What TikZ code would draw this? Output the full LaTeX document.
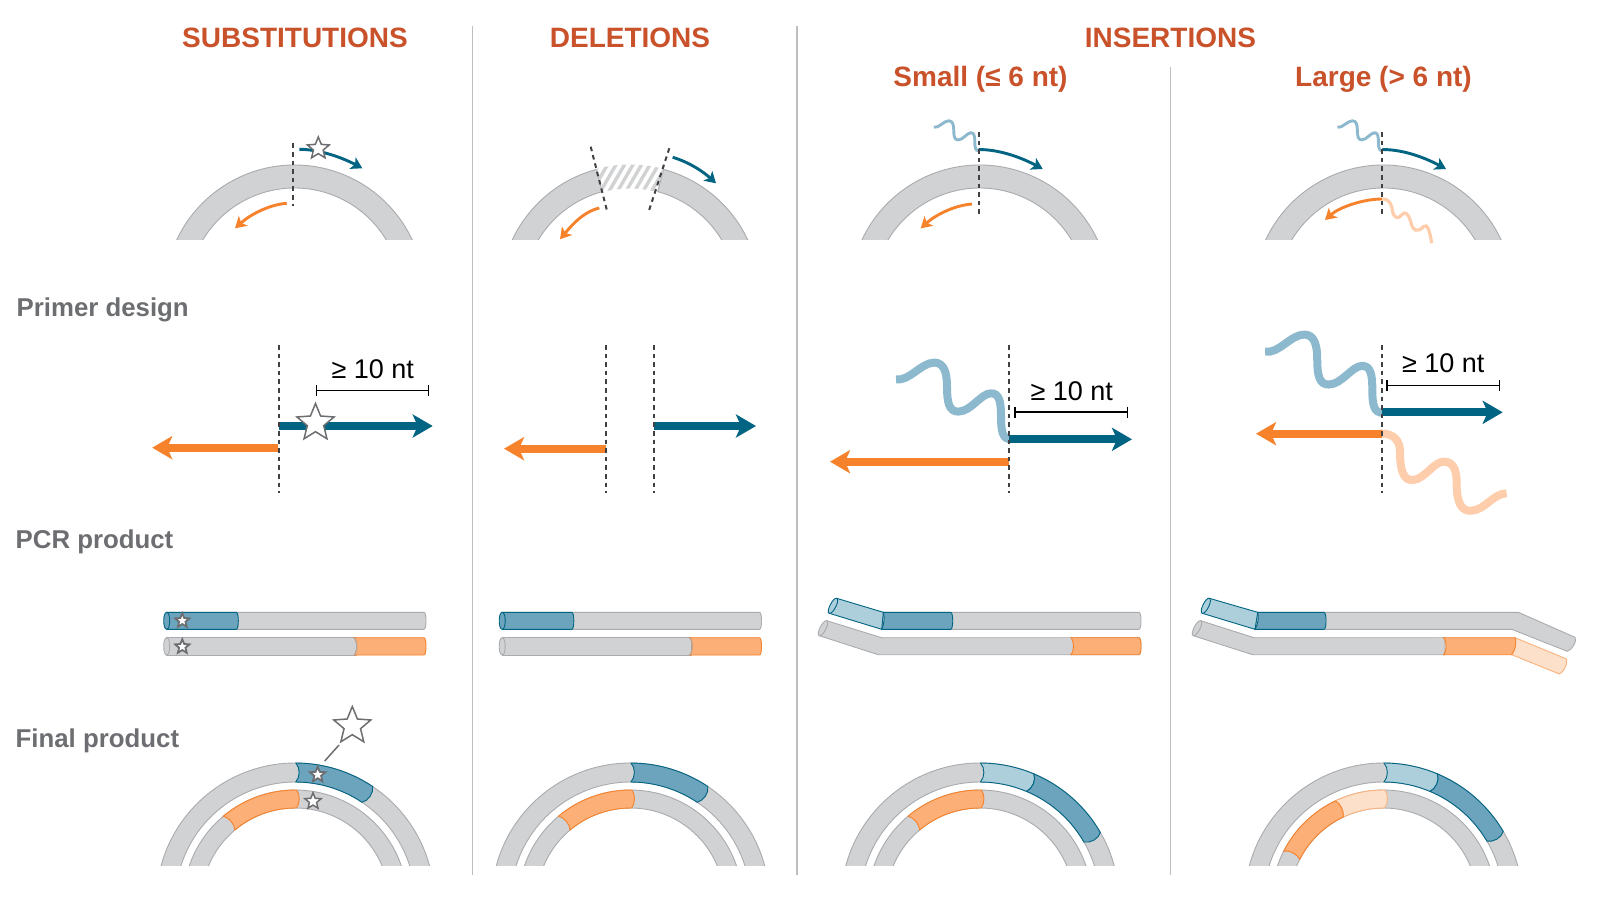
\documentclass[tikz,border=0pt]{standalone}
\usepackage{fontspec}
\setmainfont{Liberation Sans}
\usetikzlibrary{arrows.meta,shapes.geometric}
\definecolor{teal}{HTML}{006482}
\definecolor{tealfill}{HTML}{6BA4BC}
\definecolor{teallight}{HTML}{ADCEDB}
\definecolor{squigblue}{HTML}{8DB9CE}
\definecolor{orng}{HTML}{F6822B}
\definecolor{orngfill}{HTML}{FCAF76}
\definecolor{ornglight}{HTML}{FDE0CA}
\definecolor{orngedge}{HTML}{FBB27C}
\definecolor{squigorng}{HTML}{FDCDAC}
\definecolor{bandgrey}{HTML}{D1D2D4}
\definecolor{edgegrey}{HTML}{A9ABAE}
\definecolor{titlered}{HTML}{C9522B}
\definecolor{rowgrey}{HTML}{6D6E71}
\definecolor{dashgrey}{HTML}{414042}
\definecolor{sepgrey}{HTML}{BCBEC0}
\tikzset{
  x=1pt,y=-1pt,
  title/.style={font=\fontsize{28}{30}\selectfont\bfseries,text=titlered,anchor=base,inner sep=0},
  rowlab/.style={font=\fontsize{25.8}{28}\selectfont\bfseries,text=rowgrey,anchor=base west,inner sep=0},
  meas/.style={font=\fontsize{27}{28}\selectfont,text=black,anchor=base,inner sep=0},
  sep/.style={draw=sepgrey,line width=1.6pt},
  cut/.style={draw=dashgrey,line width=2pt,dash pattern=on 4.6pt off 4pt},
  greyb/.style={fill=bandgrey,draw=edgegrey,line width=0.9pt},
  blueb/.style={fill=tealfill,draw=teal,line width=0.9pt},
  lblueb/.style={fill=teallight,draw=teal,line width=0.9pt},
  orb/.style={fill=orngfill,draw=orng,line width=0.9pt},
  lorb/.style={fill=ornglight,draw=orngedge,line width=0.9pt},
  bigteal/.style={draw=teal,line width=8pt,-{Stealth[length=20pt,width=23pt,inset=5pt]}},
  bigorng/.style={draw=orng,line width=8pt,-{Stealth[length=20pt,width=23pt,inset=5pt]}},
  smteal/.style={draw=teal,line width=2.9pt,-{Stealth[length=11pt,width=13pt,inset=2.8pt]}},
  smorng/.style={draw=orng,line width=2.9pt,-{Stealth[length=11pt,width=13pt,inset=2.8pt]}},
  ruler/.style={draw=black,line width=1.3pt,{Bar[width=11pt,line width=1.3pt]}-{Bar[width=11pt,line width=1.3pt]}},
  starbig/.style={star,star points=5,star point ratio=2.25,draw=rowgrey,fill=white,line width=1.5pt,inner sep=0,outer sep=0},
  squigb/.style={draw=squigblue,line width=8pt},
  squigo/.style={draw=squigorng,line width=8pt},
}
% annular sector: cx cy Ro Ri t1 t2 bulge (t clockwise from the top)
\newcommand\bandp[7]{([shift={(#1,#2)}]{#5-90}:{#3}) arc[start angle={#5-90},end angle={#6-90},radius=#3]
  .. controls ([shift={(#1,#2)}]{#6+#7-90}:{#3-(#3-#4)/4}) and ([shift={(#1,#2)}]{#6+#7-90}:{#4+(#3-#4)/4}) .. ([shift={(#1,#2)}]{#6-90}:{#4})
  arc[start angle={#6-90},end angle={#5-90},radius=#4]
  .. controls ([shift={(#1,#2)}]{#5+#7-90}:{#4+(#3-#4)/4}) and ([shift={(#1,#2)}]{#5+#7-90}:{#3-(#3-#4)/4}) .. cycle}
% right rounded end on a horizontal tube
\newcommand\capR[3]{-- ({#1-2},#2) .. controls ({#1+0.7},#2) and ({#1+0.7},#3) .. ({#1-2},#3)}
\newcommand\capL[3]{-- (#1,#3) .. controls ({#1+3.6},{#3-3}) and ({#1+3.6},{#2+3}) .. (#1,#2) -- cycle}
% tube end ellipse: top point, bottom point, direction*4
\newcommand\tubeend[7]{\draw[#1] (#2,#3) .. controls ({#2+#6},{#3+#7}) and ({#4+#6},{#5+#7}) .. (#4,#5) .. controls ({#4-#6},{#5-#7}) and ({#2-#6},{#3-#7}) .. cycle;}
\newcommand\squig{(-115,-60) .. controls (-101.7,-57.7) and (-90,-76.7) .. (-76.7,-76.7)
  .. controls (-66.7,-76.7) and (-64,-66) .. (-64,-52.7)
  .. controls (-64,-36) and (-61.7,-27.7) .. (-52.7,-27.7)
  .. controls (-40,-27.7) and (-30,-46) .. (-20,-46)
  .. controls (-11.7,-46) and (-10,-37.7) .. (-10,-22.7)
  .. controls (-10,-7.7) and (-8.3,0) .. (0,0)}
% top arc
\newcommand\toparc[1]{\begin{scope}\clip (0,0) rectangle (1600,239.3);
  \path[greyb] \bandp{#1}{295}{130}{107}{-75}{75}{0};\end{scope}}
% bottom rings; #1 centre
\newcommand\rings[1]{\path[greyb] \bandp{#1}{902}{139}{120}{-85}{85}{0};
  \path[greyb] \bandp{#1}{902}{112}{94}{-85}{85}{0};}
\newcommand\rowbars[1]{%
  \begin{scope}[xshift=#1pt]
  \path[greyb] (166.7,612.3) \capR{426}{612.3}{629.3} -- (166.7,629.3) -- cycle;
  \path[blueb] (166.7,612.3) \capR{238.3}{612.3}{629.3} -- (166.7,629.3) -- cycle;
  \tubeend{blueb}{166.7}{612.3}{166.7}{629.3}{-4}{0}
  \path[greyb] (166.7,637.7) -- (356,637.7) -- (356,655) -- (166.7,655) -- cycle;
  \path[orb] (354,637.7) \capR{426}{637.7}{655} \capL{354}{637.7}{655};
  \path[fill=bandgrey] (167,638.2) rectangle (353.5,654.5);
  \path[draw=edgegrey,line width=0.9pt] (354,637.7) .. controls (357.6,640.7) and (357.6,652) .. (354,655);
  \tubeend{greyb}{166.7}{637.7}{166.7}{655}{-4}{0}
  \end{scope}}
\begin{document}
\begin{tikzpicture}
\useasboundingbox (0,0) rectangle (1600,900);
\fill[white] (0,0) rectangle (1600,900);

% separators
\draw[sep] (472.6,25.5) coordinate (sa) -- (472.6,874.5) coordinate (sb);
\draw[sep] (797,25.5) coordinate (sc) -- (797,874.5) coordinate (sd);
\draw[sep] (1170.4,67.3) coordinate (se) -- (1170.4,874.5) coordinate (sf);

% titles
\node[title] (tsub) at (295,47.5) {SUBSTITUTIONS};
\node[title] (tdel) at (630,47.5) {DELETIONS};
\node[title] (tins) at (1170.4,47.5) {INSERTIONS};
\node[title] (tsmall) at (980.5,86.5) {Small (≤ 6 nt)};
\node[title] (tlarge) at (1383.5,86.5) {Large (> 6 nt)};
\node[rowlab] (rp) at (16.5,316) {Primer design};
\node[rowlab] (rc) at (15.5,548) {PCR product};
\node[rowlab] (rf) at (15.5,747) {Final product};

% ---------- top row ----------
\toparc{294.5}
\draw[smteal] (299.3,149.3) .. controls +(21,0) and +(-18.6,-10) .. (362.3,168.3);
\draw[smorng] (286.7,203.3) .. controls +(-19,1.5) and +(14,-12.6) .. (235,228.3);
\draw[cut] (293,143.3) -- (293,206);
\node[starbig,minimum size=23pt] (s1) at (318.3,148.5) {};

% deletion
\begin{scope}\clip (0,0) rectangle (1600,239.3);
  \path[greyb] \bandp{630}{295}{130}{107}{-75}{-15}{0};
  \path[greyb] \bandp{630}{295}{130}{107}{15}{75}{0};
\end{scope}
\begin{scope}
  \clip \bandp{630}{295}{130.5}{106.5}{-15}{15}{0};
  \foreach \h in {570,578.5,...,700} {\draw[bandgrey,line width=3.4pt] (\h,200) -- ({\h+29},150);}
\end{scope}
\draw[smteal] (672.7,157.3) .. controls +(17,5) and +(-12,-11) .. (716,183.3);
\draw[smorng] (599.3,208) .. controls +(-17,4) and +(10,-12) .. (560,239.3);
\draw[cut] (590.7,146.7) -- (607.3,212);
\draw[cut] (669.3,148.3) -- (648.3,212.7);

% small insertion
\toparc{979.7}
\draw[draw=squigblue,line width=2.9pt,shift={(978.7,150.7)},x=0.39pt,y=-0.39pt] \squig;
\draw[smteal] (978.7,149.5) .. controls +(23,0) and +(-18.6,-10) .. (1042.7,169);
\draw[smorng] (972,204) .. controls +(-19,1.5) and +(14,-12.6) .. (920.7,228.3);
\draw[cut] (978.7,132) -- (978.7,216.7);

% large insertion
\toparc{1383.4}
\draw[draw=squigblue,line width=2.9pt,shift={(1382.3,150.7)},x=0.39pt,y=-0.39pt] \squig;
\begin{scope}[shift={(1250,100)},x=0.3333pt,y=-0.3333pt]
\draw[draw=squigorng,line width=3.2pt] (397,297) .. controls (420,297) and (425,315) .. (428,335)
  .. controls (432,355) and (445,358) .. (455,345)
  .. controls (465,332) and (475,340) .. (482,365)
  .. controls (488,395) and (505,398) .. (520,380)
  .. controls (532,368) and (540,395) .. (545,430);
\end{scope}
\draw[smteal] (1382.3,149.5) .. controls +(23,0) and +(-18.6,-10) .. (1446,169);
\draw[smorng] (1382,199) .. controls +(-19,0) and +(14,-12.6) .. (1325,220);
\draw[cut] (1382.2,132) -- (1382.2,216.7);

% ---------- primer row ----------
\draw[bigteal] (278.8,426) -- (432.7,426);
\draw[bigorng] (278,447.7) -- (152.2,447.7);
\draw[cut] (278.8,345) -- (278.8,493);
\node[starbig,minimum size=39pt] (s2) at (315.5,423) {};
\draw[ruler] (315.5,390.5) -- (429,390.5);
\node[meas] (m1) at (372.7,378) {≥ 10 nt};

\draw[bigteal] (654,426) -- (756,426);
\draw[bigorng] (606,448.7) -- (504,448.7);
\draw[cut] (606.1,345) -- (606.1,493);
\draw[cut] (653.9,345) -- (653.9,493);

\draw[squigb,shift={(1011,439.3)},x=1pt,y=-1pt] \squig;
\draw[bigteal] (1009.3,439.3) -- (1132,439.3);
\draw[bigorng] (1009.3,461.7) -- (830,461.7);
\draw[cut] (1009.3,345) -- (1009.3,493);
\draw[ruler] (1014.3,412) -- (1128.3,412);
\node[meas] (m2) at (1071.7,400) {≥ 10 nt};

\draw[squigb,shift={(1382.5,412.8)},x=1.02pt,y=-1.02pt] \squig;
\begin{scope}[shift={(1230,320)},x=0.3333pt,y=-0.3333pt]
\draw[squigo] (450,340) .. controls (490,340) and (510,360) .. (510,395)
  .. controls (510,450) and (520,482) .. (548,480)
  .. controls (585,478) and (610,425) .. (642,425)
  .. controls (675,425) and (680,460) .. (680,490)
  .. controls (680,550) and (695,575) .. (725,572)
  .. controls (765,570) and (790,520) .. (830,520);
\end{scope}
\draw[bigteal] (1381.7,412.3) -- (1502.7,412.3);
\draw[bigorng] (1381.7,433.7) -- (1256,433.7);
\draw[cut] (1381.7,345) -- (1381.7,493);
\draw[ruler] (1386.3,385.7) -- (1500.3,385.7);
\node[meas] (m3) at (1443.3,372.7) {≥ 10 nt};

% ---------- PCR product row ----------
\rowbars{0}
\node[starbig,minimum size=15pt,line width=1.8pt] (s3) at (182.3,620.7) {};
\node[starbig,minimum size=15pt,line width=1.8pt] (s4) at (182.3,646.7) {};
\rowbars{335.5}

% small insertion bars
\path[greyb] (883.3,612.3) \capR{1141}{612.3}{629.3} -- (881.7,629.3) -- cycle;
\path[lblueb] (836.7,598.3) -- (883.3,612.3) -- (881.7,629.3) -- (829.3,613.3) -- cycle;
\path[blueb] (883.3,612.3) \capR{952.7}{612.3}{629.3} -- (881.7,629.3) .. controls (884,624) and (885,618) .. cycle;
\tubeend{lblueb}{836.7}{598.3}{829.3}{613.3}{-3.8}{-1.15}
\path[greyb] (826.7,620.7) -- (881.7,637.7) \capR{1141}{637.7}{654.7} -- (878.3,654.7) -- (819.3,635.7) -- cycle;
\path[orb] (1070.7,637.7) \capR{1141}{637.7}{654.7} \capL{1070.7}{637.7}{654.7};
\fill[bandgrey] (1060,638.2) rectangle (1070.5,654.2);
\tubeend{greyb}{826.7}{620.7}{819.3}{635.7}{-3.8}{-1.15}

% large insertion bars
\path[greyb] (1257.7,612.3) -- (1518.3,612.3) -- (1575,637.3) .. controls (1577.5,641) and (1572,650) .. (1567.3,651.3) -- (1511.7,629.3) -- (1255,629.3) -- cycle;
\path[lblueb] (1209.3,598.3) -- (1257.7,612.3) -- (1255,629.3) -- (1202.3,613.3) -- cycle;
\path[blueb] (1257.7,612.3) \capR{1326}{612.3}{629.3} -- (1255,629.3) .. controls (1258,624) and (1259,618) .. cycle;
\tubeend{lblueb}{1209.3}{598.3}{1202.3}{613.3}{-3.8}{-1.15}
\path[greyb] (1200.7,620.7) -- (1254,637.7) -- (1445,637.7) -- (1445,654.7) -- (1252.7,654.7) -- (1193.3,635.7) -- cycle;
\path[lorb] (1515,637.7) -- (1566.7,659) .. controls (1568,664) and (1563,673) .. (1559.3,674) -- (1511.7,654.7) -- cycle;
\path[orb] (1443.3,637.7) -- (1515,637.7) .. controls (1517,642) and (1515,651) .. (1511.7,654.7) \capL{1443.3}{637.7}{654.7};
\fill[bandgrey] (1434,638.2) rectangle (1443,654.2);
\tubeend{greyb}{1200.7}{620.7}{1193.3}{635.7}{-3.8}{-1.15}

% ---------- final product row ----------
\begin{scope}
\clip (0,0) rectangle (1600,865.3);
\rings{295.3}
\path[blueb] \bandp{295.3}{902}{139}{120}{0.2}{33.8}{2};
\path[orb] \bandp{295.3}{902}{112}{94}{-40}{0.7}{2};

\rings{630.5}
\path[blueb] \bandp{630.5}{902}{139}{120}{0.2}{33.8}{2};
\path[orb] \bandp{630.5}{902}{112}{94}{-40}{0.7}{2};

\rings{980}
\path[lblueb] \bandp{980}{902}{139}{120}{0.2}{22.8}{2};
\path[blueb] \bandp{980}{902}{139}{120}{22.8}{60}{2};
\path[orb] \bandp{980}{902}{112}{94}{-40}{0.7}{2};

\rings{1383.5}
\path[lblueb] \bandp{1383.5}{902}{139}{120}{0.2}{22.8}{2};
\path[blueb] \bandp{1383.5}{902}{139}{120}{22.8}{59.5}{2};
\path[lorb] \bandp{1383.5}{902}{112}{94}{-25.5}{0.7}{2};
\path[orb] \bandp{1383.5}{902}{112}{94}{-63}{-25.5}{2};
\end{scope}
\node[starbig,minimum size=16pt,line width=1.8pt] (s5) at (317.7,774.7) {};
\node[starbig,minimum size=17pt] (s6) at (313,801.3) {};
\node[starbig,minimum size=39pt] (s7) at (352.3,726) {};
\coordinate (s7foot) at (324.7,761);
\draw[draw=rowgrey,line width=1.5pt] (339,745) -- (s7foot);
\end{tikzpicture}
\end{document}
